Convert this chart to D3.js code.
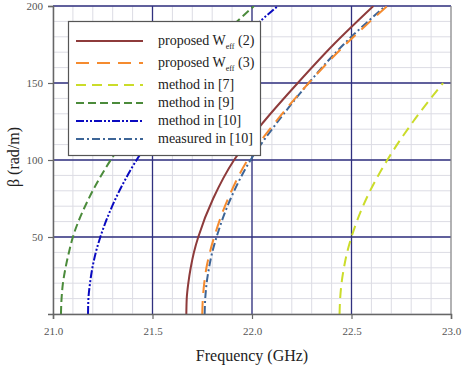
<!DOCTYPE html>
<html>
<head>
<meta charset="utf-8">
<script src="https://cdn.jsdelivr.net/npm/d3@7"></script>
<style>
body { margin: 0; background: #fff; }
svg text { font-family: "Liberation Serif", "Times New Roman", "DejaVu Serif", serif !important; }
</style>
</head>
<body>
<svg id="chart" width="474" height="368"></svg>
<script>
// data: beta (rad/m) vs frequency (GHz)
var betaPts = [0, 10, 20, 30, 40, 50, 75, 100, 125, 150, 175, 200];
var freqProp2 = [21.67, 21.672, 21.68, 21.692, 21.708, 21.73, 21.805, 21.91, 22.06, 22.23, 22.41, 22.61];
var freqProp3 = [21.75, 21.753, 21.76, 21.771, 21.788, 21.81, 21.88, 21.978, 22.12, 22.285, 22.47, 22.68];
var freqM7 = [22.44, 22.443, 22.45, 22.462, 22.478, 22.50, 22.575, 22.68, 22.81, 22.96];
var freqM9 = [21.04, 21.043, 21.05, 21.063, 21.08, 21.10, 21.18, 21.29, 21.43, 21.60, 21.80, 22.01];
var freqM10 = [21.176, 21.178, 21.186, 21.198, 21.215, 21.238, 21.315, 21.42, 21.555, 21.72, 21.91, 22.13];
var freqMeas = [21.762, 21.765, 21.772, 21.784, 21.80, 21.822, 21.893, 21.993, 22.13, 22.285, 22.46, 22.67];

var xTicks = [21.0, 21.5, 22.0, 22.5, 23.0];
var yTicks = [50, 100, 150, 200];

var series = [
    {name: "proposed W", sub: "eff", tail: " (2)", f: freqProp2, color: "#8e3b3b", dash: null},
    {name: "proposed W", sub: "eff", tail: " (3)", f: freqProp3, color: "#f58b2f", dash: "13,8"},
    {name: "method in [7]", f: freqM7, color: "#cbdc2a", dash: "10,6"},
    {name: "method in [9]", f: freqM9, color: "#4b8b3b", dash: "8,4"},
    {name: "method in [10]", f: freqM10, color: "#0a0ac0", dash: "8,2,2,2,2,2"},
    {name: "measured in [10]", f: freqMeas, color: "#3d6597", dash: "8,3,2,3"}
];

var pLeft = 53, pRight = 451, pTop = 6, pBottom = 314;
var serif = "'Liberation Serif', 'Times New Roman', serif";

var svg = d3.select("#chart");

var xScale = d3.scaleLinear().domain([21, 23]).range([pLeft, pRight]);
var yScale = d3.scaleLinear().domain([0, 200]).range([pBottom, pTop]);

//minor grid
svg.append("g").selectAll("line")
    .data(d3.range(21, 23.001, 0.1))
    .enter().append("line")
    .attr("x1", function(d){return xScale(d)})
    .attr("x2", function(d){return xScale(d)})
    .attr("y1", pTop).attr("y2", pBottom)
    .attr("stroke", "#dcdce4").attr("stroke-width", 1);

svg.append("g").selectAll("line")
    .data(d3.range(0, 201, 10))
    .enter().append("line")
    .attr("y1", function(d){return yScale(d)})
    .attr("y2", function(d){return yScale(d)})
    .attr("x1", pLeft).attr("x2", pRight)
    .attr("stroke", "#dcdce4").attr("stroke-width", 1);

//major grid
svg.append("g").selectAll("line")
    .data(xTicks.slice(1, 4))
    .enter().append("line")
    .attr("x1", function(d){return xScale(d)})
    .attr("x2", function(d){return xScale(d)})
    .attr("y1", pTop).attr("y2", pBottom)
    .attr("stroke", "#30307f").attr("stroke-width", 1.3);

svg.append("g").selectAll("line")
    .data(yTicks)
    .enter().append("line")
    .attr("y1", function(d){return yScale(d)})
    .attr("y2", function(d){return yScale(d)})
    .attr("x1", pLeft).attr("x2", pRight)
    .attr("stroke", "#30307f").attr("stroke-width", 1.3);

//right border
svg.append("line")
    .attr("x1", pRight).attr("x2", pRight).attr("y1", pTop).attr("y2", pBottom)
    .attr("stroke", "#8a8a8a").attr("stroke-width", 1.2);

//curves
svg.append("clipPath").attr("id", "clip")
    .append("rect").attr("x", pLeft).attr("y", pTop)
    .attr("width", pRight - pLeft).attr("height", pBottom - pTop);

var line = d3.line()
    .x(function(d){return xScale(d[0])})
    .y(function(d){return yScale(d[1])})
    .curve(d3.curveMonotoneY);

svg.append("g").attr("clip-path", "url(#clip)")
    .selectAll("path")
    .data(series.slice().reverse())
    .enter().append("path")
    .attr("d", function(s){
        return line(s.f.map(function(f, i){return [f, betaPts[i]]}));
    })
    .attr("fill", "none")
    .attr("stroke", function(s){return s.color})
    .attr("stroke-width", 2)
    .attr("stroke-dasharray", function(s){return s.dash});

//axes
var xAxis = svg.append("g")
    .attr("transform", "translate(0," + pBottom + ")")
    .call(d3.axisBottom(xScale).tickValues(xTicks).tickFormat(d3.format(".1f")).tickSize(5).tickPadding(8));
var yAxis = svg.append("g")
    .attr("transform", "translate(" + pLeft + ",0)")
    .call(d3.axisLeft(yScale).tickValues(yTicks).tickSize(5).tickPadding(5));

[xAxis, yAxis].forEach(function(ax){
    ax.attr("font-family", serif).attr("font-size", 11);
    ax.select(".domain").attr("stroke", "#666").attr("stroke-width", 1.5);
    ax.selectAll(".tick line").attr("stroke", "#666").attr("stroke-width", 1.2);
    ax.selectAll(".tick text").attr("fill", "#555");
});

svg.append("text")
    .attr("x", 252).attr("y", 361)
    .attr("text-anchor", "middle")
    .attr("fill", "#222")
    .attr("font-family", serif)
    .attr("font-size", 16)
    .text("Frequency (GHz)");

svg.append("text")
    .attr("transform", "translate(19,157) rotate(-90)")
    .attr("text-anchor", "middle")
    .attr("fill", "#222")
    .attr("font-family", serif)
    .attr("font-size", 16)
    .text("β (rad/m)");

//legend
var legend = svg.append("g");
legend.append("rect")
    .attr("x", 68.5).attr("y", 21.5).attr("width", 192).attr("height", 134)
    .attr("fill", "#fff").attr("stroke", "#555").attr("stroke-width", 1.2);

var rowY = [41, 63, 85, 103, 121, 139];

var rows = legend.selectAll("g.row")
    .data(series)
    .enter().append("g")
    .attr("class", "row")
    .attr("transform", function(s, i){return "translate(0," + rowY[i] + ")"});

rows.append("line")
    .attr("x1", 76).attr("x2", 143).attr("y1", 0).attr("y2", 0)
    .attr("stroke", function(s){return s.color})
    .attr("stroke-width", 2)
    .attr("stroke-dasharray", function(s){return s.dash});

var txt = rows.append("text")
    .attr("x", 158).attr("y", 4)
    .attr("fill", "#222")
    .attr("font-family", serif)
    .attr("font-size", 14);
txt.append("tspan").text(function(s){return s.name});
txt.filter(function(s){return s.sub})
    .append("tspan").attr("dy", 4).attr("font-size", 8).text(function(s){return s.sub});
txt.filter(function(s){return s.sub})
    .append("tspan").attr("dy", -4).text(function(s){return s.tail});
</script>
</body>
</html>
